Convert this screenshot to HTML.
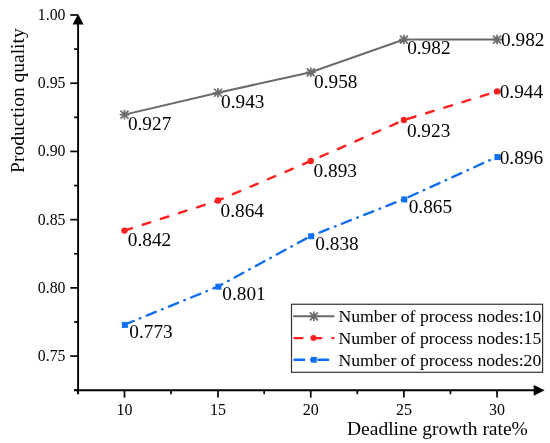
<!DOCTYPE html>
<html><head><meta charset="utf-8"><style>
html,body{margin:0;padding:0;background:#fff;}
svg{display:block;}
text{font-family:"Liberation Serif","Times New Roman",serif;fill:#000;}
</style></head><body>
<svg width="550" height="443" viewBox="0 0 550 443">
<g stroke="#000" stroke-width="1.9" fill="none">
<line x1="78.1" y1="22" x2="78.1" y2="394"/>
<line x1="74" y1="390.3" x2="535" y2="390.3"/>
</g>
<path d="M78.1,14 L83.6,24.4 L72.6,24.4 Z" fill="#000"/>
<path d="M544.7,390.3 L533.7,384.9 L533.7,395.7 Z" fill="#000"/>
<g stroke="#000" stroke-width="1.7"><line x1="70.3" y1="15.00" x2="78.1" y2="15.00"/><line x1="74.1" y1="49.11" x2="78.1" y2="49.11"/><line x1="70.3" y1="83.22" x2="78.1" y2="83.22"/><line x1="74.1" y1="117.33" x2="78.1" y2="117.33"/><line x1="70.3" y1="151.44" x2="78.1" y2="151.44"/><line x1="74.1" y1="185.55" x2="78.1" y2="185.55"/><line x1="70.3" y1="219.66" x2="78.1" y2="219.66"/><line x1="74.1" y1="253.77" x2="78.1" y2="253.77"/><line x1="70.3" y1="287.88" x2="78.1" y2="287.88"/><line x1="74.1" y1="321.99" x2="78.1" y2="321.99"/><line x1="70.3" y1="356.10" x2="78.1" y2="356.10"/><line x1="74.1" y1="390.21" x2="78.1" y2="390.21"/><line x1="77.94" y1="390.3" x2="77.94" y2="394.2"/><line x1="124.50" y1="390.3" x2="124.50" y2="397.6"/><line x1="171.06" y1="390.3" x2="171.06" y2="394.2"/><line x1="218.00" y1="390.3" x2="218.00" y2="397.6"/><line x1="264.19" y1="390.3" x2="264.19" y2="394.2"/><line x1="310.75" y1="390.3" x2="310.75" y2="397.6"/><line x1="357.31" y1="390.3" x2="357.31" y2="394.2"/><line x1="403.90" y1="390.3" x2="403.90" y2="397.6"/><line x1="450.44" y1="390.3" x2="450.44" y2="394.2"/><line x1="497.05" y1="390.3" x2="497.05" y2="397.6"/></g>
<text x="65.5" y="19.90" font-size="15.8" text-anchor="end">1.00</text>
<text x="65.5" y="88.12" font-size="15.8" text-anchor="end">0.95</text>
<text x="65.5" y="156.34" font-size="15.8" text-anchor="end">0.90</text>
<text x="65.5" y="224.56" font-size="15.8" text-anchor="end">0.85</text>
<text x="65.5" y="292.78" font-size="15.8" text-anchor="end">0.80</text>
<text x="65.5" y="361.00" font-size="15.8" text-anchor="end">0.75</text>
<text x="124.50" y="415" font-size="16" text-anchor="middle">10</text>
<text x="218.00" y="415" font-size="16" text-anchor="middle">15</text>
<text x="310.75" y="415" font-size="16" text-anchor="middle">20</text>
<text x="403.90" y="415" font-size="16" text-anchor="middle">25</text>
<text x="497.05" y="415" font-size="16" text-anchor="middle">30</text>
<text x="347" y="434.8" font-size="19.5">Deadline growth rate%</text>
<text transform="translate(24.1,100.6) rotate(-90)" font-size="19.5" text-anchor="middle">Production quality</text>
<polyline points="124.50,114.60 218.00,92.77 310.75,72.30 403.90,39.56 497.05,39.56" fill="none" stroke="#6a6a6a" stroke-width="2"/>
<polyline points="124.50,230.58 218.00,200.56 310.75,160.99 403.90,120.06 497.05,91.41" fill="none" stroke="#ff1f1f" stroke-width="2.4" stroke-dasharray="7.95 11.11" stroke-linecap="round"/>
<polyline points="124.50,324.72 218.00,286.52 310.75,236.03 403.90,199.19 497.05,156.90" fill="none" stroke="#106ef0" stroke-width="2.4" stroke-dasharray="9.8 6.7 0.7 6.8" stroke-linecap="round"/>
<path d="M119.70,114.60H129.30M124.50,109.80V119.40M120.50,110.60L128.50,118.60M120.50,118.60L128.50,110.60M213.20,92.77H222.80M218.00,87.97V97.57M214.00,88.77L222.00,96.77M214.00,96.77L222.00,88.77M305.95,72.30H315.55M310.75,67.50V77.10M306.75,68.30L314.75,76.30M306.75,76.30L314.75,68.30M399.10,39.56H408.70M403.90,34.76V44.36M399.90,35.56L407.90,43.56M399.90,43.56L407.90,35.56M492.25,39.56H501.85M497.05,34.76V44.36M493.05,35.56L501.05,43.56M493.05,43.56L501.05,35.56" stroke="#6a6a6a" stroke-width="1.7" fill="none"/>
<circle cx="124.50" cy="230.58" r="3.2" fill="#ff1f1f"/>
<circle cx="218.00" cy="200.56" r="3.2" fill="#ff1f1f"/>
<circle cx="310.75" cy="160.99" r="3.2" fill="#ff1f1f"/>
<circle cx="403.90" cy="120.06" r="3.2" fill="#ff1f1f"/>
<circle cx="497.05" cy="91.41" r="3.2" fill="#ff1f1f"/>
<rect x="121.90" y="321.92" width="6" height="6" fill="#106ef0"/>
<rect x="215.40" y="283.72" width="6" height="6" fill="#106ef0"/>
<rect x="308.15" y="233.23" width="6" height="6" fill="#106ef0"/>
<rect x="401.30" y="196.39" width="6" height="6" fill="#106ef0"/>
<rect x="494.45" y="154.10" width="6" height="6" fill="#106ef0"/>
<text x="127.90" y="129.70" font-size="19.3">0.927</text>
<text x="221.10" y="108.00" font-size="19.3">0.943</text>
<text x="314.10" y="87.85" font-size="19.3">0.958</text>
<text x="407.15" y="54.30" font-size="19.3">0.982</text>
<text x="501.10" y="45.70" font-size="19.3">0.982</text>
<text x="127.80" y="246.20" font-size="19.3">0.842</text>
<text x="220.60" y="216.50" font-size="19.3">0.864</text>
<text x="313.60" y="177.40" font-size="19.3">0.893</text>
<text x="406.90" y="136.50" font-size="19.3">0.923</text>
<text x="499.70" y="97.70" font-size="19.3">0.944</text>
<text x="129.30" y="337.80" font-size="19.3">0.773</text>
<text x="222.30" y="299.85" font-size="19.3">0.801</text>
<text x="315.30" y="249.60" font-size="19.3">0.838</text>
<text x="408.70" y="212.85" font-size="19.3">0.865</text>
<text x="499.70" y="163.50" font-size="19.3">0.896</text>
<rect x="291.5" y="304.25" width="251.1" height="68.05" fill="#fff" stroke="#333" stroke-width="1.2"/>
<line x1="293.2" y1="316.3" x2="334.4" y2="316.3" stroke="#6a6a6a" stroke-width="2"/>
<path d="M309.10,316.30H318.70M313.90,311.50V321.10M309.90,312.30L317.90,320.30M309.90,320.30L317.90,312.30" stroke="#6a6a6a" stroke-width="1.7" fill="none"/>
<line x1="294.4" y1="338.1" x2="333.4" y2="338.1" stroke="#ff1f1f" stroke-width="2.4" stroke-dasharray="7.9 11.1" stroke-linecap="round"/>
<circle cx="313.4" cy="338.1" r="3.0" fill="#ff1f1f"/>
<line x1="294.4" y1="359.8" x2="333.4" y2="359.8" stroke="#106ef0" stroke-width="2.4" stroke-dasharray="9.8 6.7 0.7 6.8" stroke-linecap="round"/>
<rect x="311.0" y="356.90000000000003" width="5.8" height="5.8" fill="#106ef0"/>
<text x="338.4" y="322.2" font-size="17.7">Number of process nodes:10</text>
<text x="338.4" y="344.0" font-size="17.7">Number of process nodes:15</text>
<text x="338.4" y="365.8" font-size="17.7">Number of process nodes:20</text>
</svg></body></html>
